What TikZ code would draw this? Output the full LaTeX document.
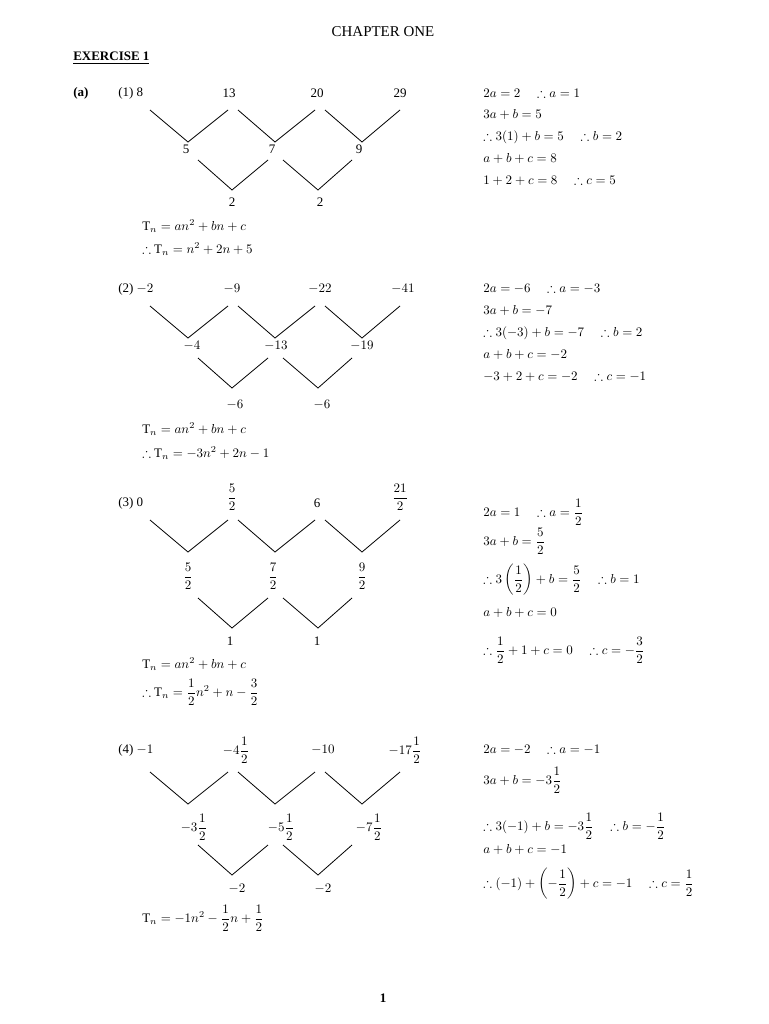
\documentclass[tikz,border=0pt]{standalone}
\usepackage{amsmath,amssymb}
\usepackage{fontspec}
\setmainfont{Liberation Serif}
\begin{document}
\begin{tikzpicture}[x=1pt,y=-1pt,every node/.style={inner sep=0pt,scale=1.3},
 t/.style={anchor=west},zz/.style={line width=0.8pt}]
\useasboundingbox (0,0) rectangle (768,1024);
\fill[white] (0,0) rectangle (768,1024);
\node[scale=1.15] (title) at (383,32) {CHAPTER ONE};
\node[t] (ex) at (73,58) {\textbf{\underline{EXERCISE 1}}};
\node[t] (a) at (73,93) {\textbf{(a)}};
\newcommand{\zig}[3]{%
 \draw[zz] (150,#1)--(188,#1+32)--(228,#1) (238,#1)--(275,#1+32)--(315,#1) (325,#1)--(362,#1+32)--(400,#1);
 \draw[zz] (198,#2)--(232,#2+30)--(268,#2) (283,#2)--(318,#2+30)--(352,#2);}
% block 1
\node[t] (p1) at (118,93) {(1) 8};
\node (b13) at (229,93) {13};\node (b20) at (317,93) {20};\node (b29) at (400,93) {29};
\node (m5) at (186,149) {5};\node (m7) at (272,149) {7};\node (m9) at (359,149) {9};
\node (l2a) at (232,202) {2};\node (l2b) at (320,202) {2};
\zig{110}{160}{}
\node[t] (t1) at (142,226) {T$_n=an^2+bn+c$};
\node[t] (s1) at (142,249) {$\therefore$ T$_n=n^2+2n+5$};
\node[t] (r11) at (483,93) {$2a=2\quad\therefore a=1$};
\node[t] (r12) at (483,115) {$3a+b=5$};
\node[t] (r13) at (483,137) {$\therefore 3(1)+b=5\quad\therefore b=2$};
\node[t] (r14) at (483,159) {$a+b+c=8$};
\node[t] (r15) at (483,181) {$1+2+c=8\quad\therefore c=5$};
% block 2
\node[t] (p2) at (118,289) {(2) $-2$};
\node (c1) at (232,289) {$-9$};\node (c2) at (320,289) {$-22$};\node (c3) at (403,289) {$-41$};
\node (n1) at (192,346) {$-4$};\node (n2) at (276,346) {$-13$};\node (n3) at (362,346) {$-19$};
\node (o1) at (235,405) {$-6$};\node (o2) at (322,405) {$-6$};
\zig{306}{358}{}
\node[t] (t2) at (142,429) {T$_n=an^2+bn+c$};
\node[t] (s2) at (142,453) {$\therefore$ T$_n=-3n^2+2n-1$};
\node[t] (r21) at (483,289) {$2a=-6\quad\therefore a=-3$};
\node[t] (r22) at (483,311) {$3a+b=-7$};
\node[t] (r23) at (483,333) {$\therefore 3(-3)+b=-7\quad\therefore b=2$};
\node[t] (r24) at (483,355) {$a+b+c=-2$};
\node[t] (r25) at (483,377) {$-3+2+c=-2\quad\therefore c=-1$};
% block 3
\node[t] (p3) at (118,503) {(3) 0};
\node (d1) at (232,497) {$\dfrac52$};\node (d2) at (317,503) {6};\node (d3) at (400,497) {$\dfrac{21}{2}$};
\node (e1) at (188,576) {$\dfrac52$};\node (e2) at (273,576) {$\dfrac72$};\node (e3) at (362,576) {$\dfrac92$};
\node (f1) at (230,641) {1};\node (f2) at (317,641) {1};
\zig{520}{598}{}
\node[t] (t3) at (142,664) {T$_n=an^2+bn+c$};
\node[t] (s3) at (142,692) {$\therefore$ T$_n=\dfrac12n^2+n-\dfrac32$};
\node[t] (r31) at (483,512) {$2a=1\quad\therefore a=\dfrac12$};
\node[t] (r32) at (483,541) {$3a+b=\dfrac52$};
\node[t] (r33) at (483,580) {$\therefore 3\left(\dfrac12\right)+b=\dfrac52\quad\therefore b=1$};
\node[t] (r34) at (483,613) {$a+b+c=0$};
\node[t] (r35) at (483,650) {$\therefore \dfrac12+1+c=0\quad\therefore c=-\dfrac32$};
% block 4
\node[t] (p4) at (118,750) {(4) $-1$};
\node (g1) at (236,750) {$-4\dfrac12$};\node (g2) at (323,750) {$-10$};\node (g3) at (405,750) {$-17\dfrac12$};
\node (h1) at (194,827) {$-3\dfrac12$};\node (h2) at (281,827) {$-5\dfrac12$};\node (h3) at (369,827) {$-7\dfrac12$};
\node (k1) at (237,889) {$-2$};\node (k2) at (323,889) {$-2$};
\zig{772}{845}{}
\node[t] (t4) at (142,918) {T$_n=-1n^2-\dfrac12n+\dfrac12$};
\node[t] (r41) at (483,750) {$2a=-2\quad\therefore a=-1$};
\node[t] (r42) at (483,780) {$3a+b=-3\dfrac12$};
\node[t] (r43) at (483,826) {$\therefore 3(-1)+b=-3\dfrac12\quad\therefore b=-\dfrac12$};
\node[t] (r44) at (483,850) {$a+b+c=-1$};
\node[t] (r45) at (483,884) {$\therefore (-1)+\left(-\dfrac12\right)+c=-1\quad\therefore c=\dfrac12$};
\node (pg) at (383,998) {\textbf{1}};
\end{tikzpicture}
\end{document}
